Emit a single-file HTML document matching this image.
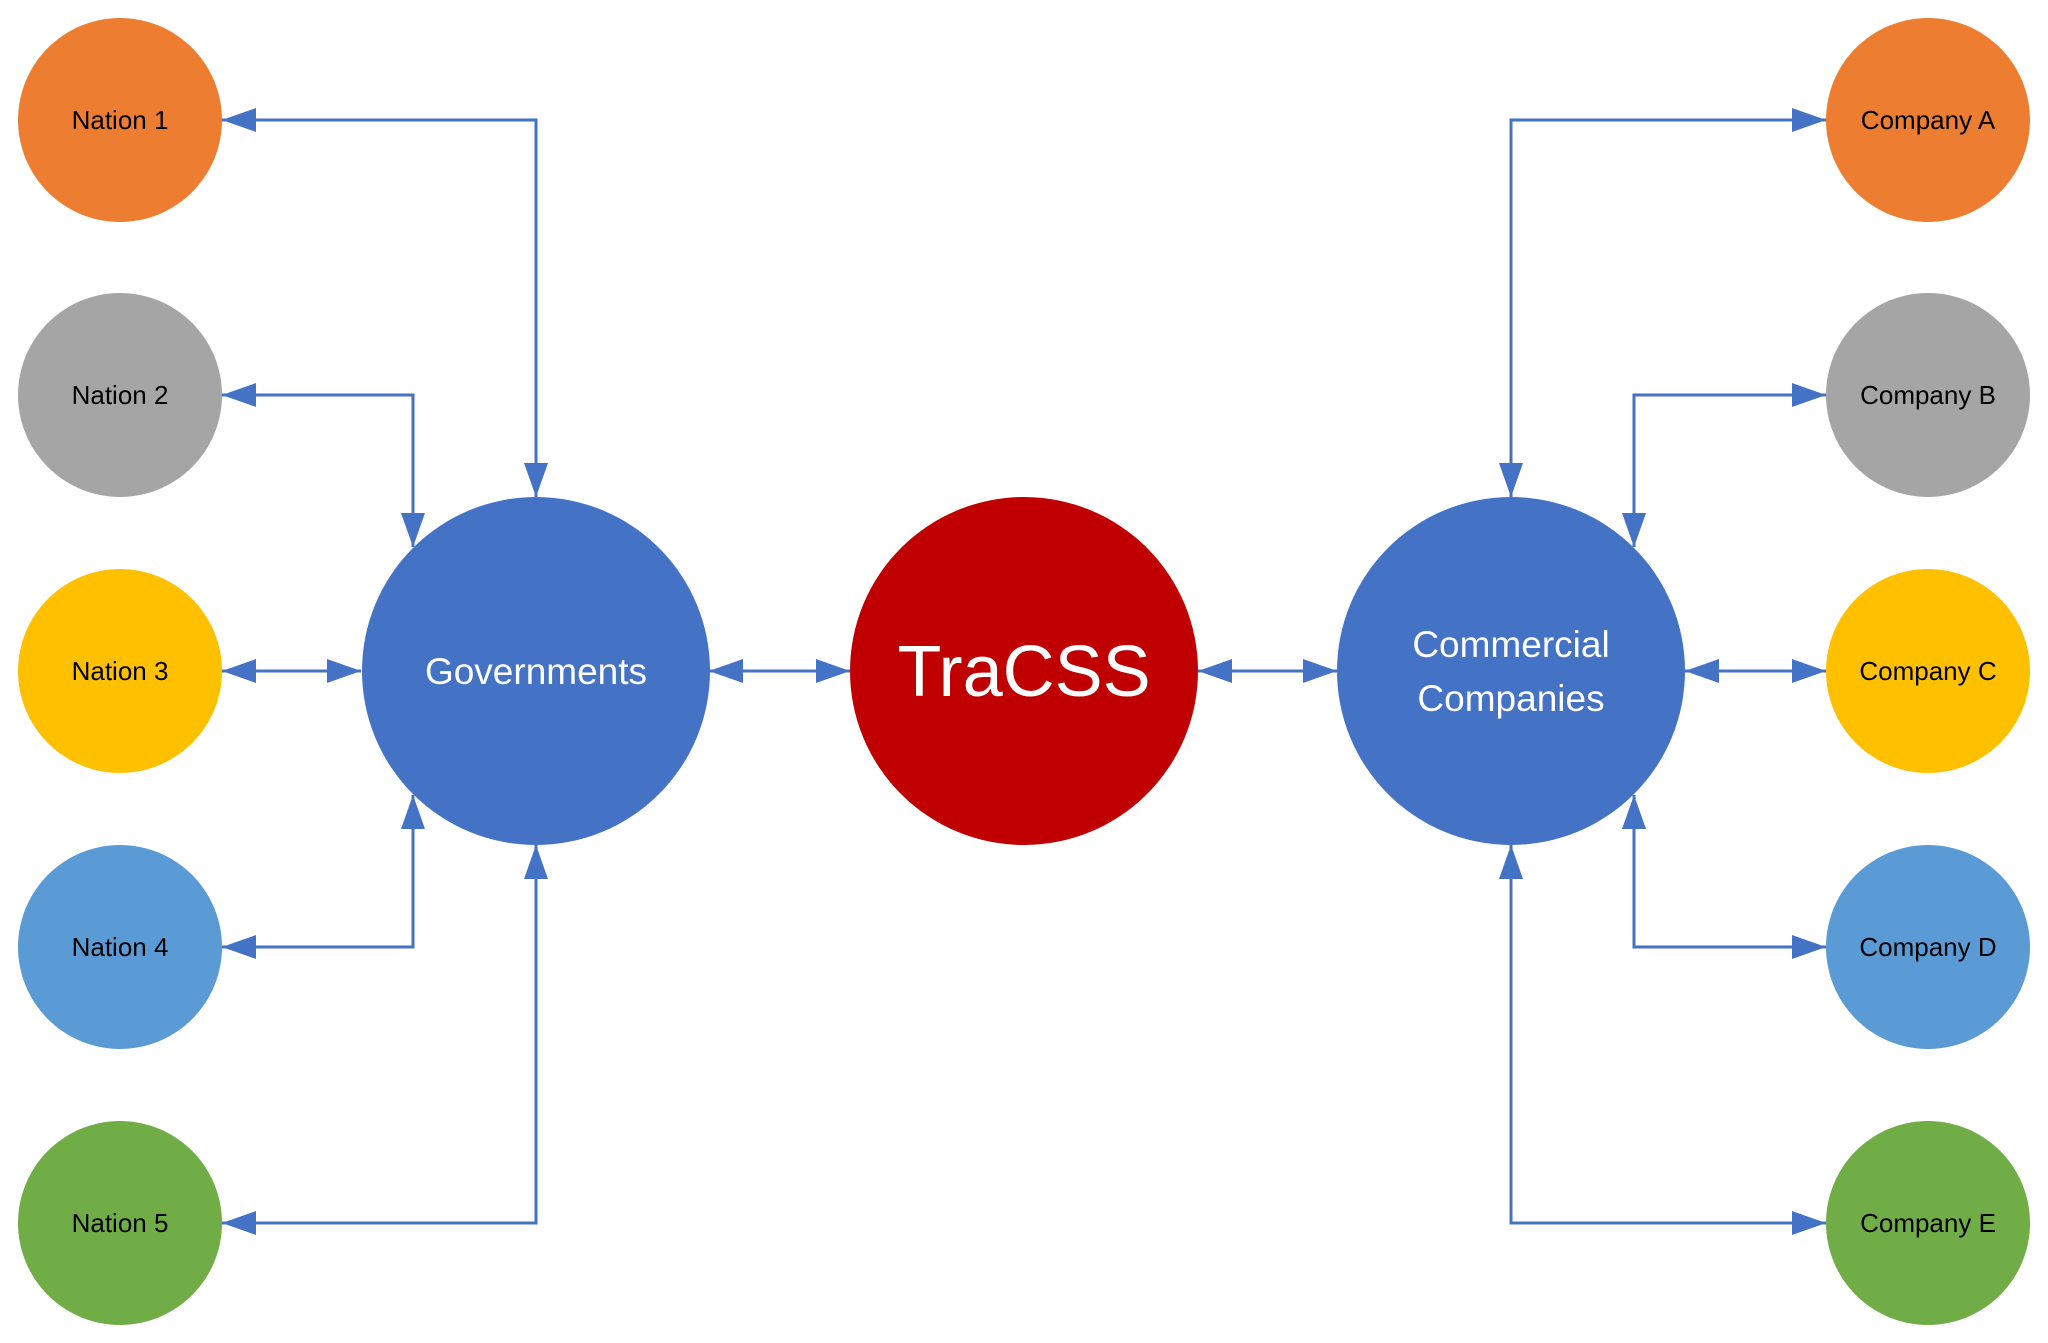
<!DOCTYPE html>
<html><head><meta charset="utf-8"><style>
html,body{margin:0;padding:0;background:#fff;}
svg{display:block;}
text{font-family:"Liberation Sans",sans-serif;}
</style></head><body>
<svg width="2048" height="1343" viewBox="0 0 2048 1343" xmlns="http://www.w3.org/2000/svg">
<defs>
<marker id="a" markerUnits="userSpaceOnUse" markerWidth="34" markerHeight="24" refX="34" refY="12" orient="auto-start-reverse">
<path d="M0,0 L34,12 L0,24 Z" fill="#4472C4"/>
</marker>
</defs>
<g transform="translate(0,1)">
<g fill="none" stroke="#4472C4" stroke-width="3" marker-start="url(#a)" marker-end="url(#a)">
<path d="M222,119 H536 V496"/>
<path d="M222,394 H413 V546"/>
<path d="M222,670 H361"/>
<path d="M222,946 H413 V794"/>
<path d="M222,1222 H536 V844"/>
<path d="M709,670 H850"/>
<path d="M1198,670 H1337"/>
<path d="M1826,119 H1511 V496"/>
<path d="M1826,394 H1634 V546"/>
<path d="M1826,670 H1685"/>
<path d="M1826,946 H1634 V794"/>
<path d="M1826,1222 H1511 V844"/>
</g>
<circle cx="120" cy="119" r="102" fill="#ED7D31"/>
<circle cx="120" cy="394" r="102" fill="#A5A5A5"/>
<circle cx="120" cy="670" r="102" fill="#FFC000"/>
<circle cx="120" cy="946" r="102" fill="#5B9BD5"/>
<circle cx="120" cy="1222" r="102" fill="#70AD47"/>
<circle cx="1928" cy="119" r="102" fill="#ED7D31"/>
<circle cx="1928" cy="394" r="102" fill="#A5A5A5"/>
<circle cx="1928" cy="670" r="102" fill="#FFC000"/>
<circle cx="1928" cy="946" r="102" fill="#5B9BD5"/>
<circle cx="1928" cy="1222" r="102" fill="#70AD47"/>
<circle cx="536" cy="670" r="174" fill="#4472C4"/>
<circle cx="1024" cy="670" r="174" fill="#C00000"/>
<circle cx="1511" cy="670" r="174" fill="#4472C4"/>
<g font-size="26" fill="#000" text-anchor="middle">
<text x="120" y="128">Nation 1</text>
<text x="120" y="403">Nation 2</text>
<text x="120" y="679">Nation 3</text>
<text x="120" y="955">Nation 4</text>
<text x="120" y="1231">Nation 5</text>
<text x="1928" y="128">Company A</text>
<text x="1928" y="403">Company B</text>
<text x="1928" y="679">Company C</text>
<text x="1928" y="955">Company D</text>
<text x="1928" y="1231">Company E</text>
</g>
<g fill="#fff" text-anchor="middle">
<text x="536" y="683" font-size="37">Governments</text>
<text x="1024" y="695" font-size="72">TraCSS</text>
<text x="1511" y="656" font-size="37">Commercial</text>
<text x="1511" y="710" font-size="37">Companies</text>
</g>
</g>
</svg>
</body></html>
